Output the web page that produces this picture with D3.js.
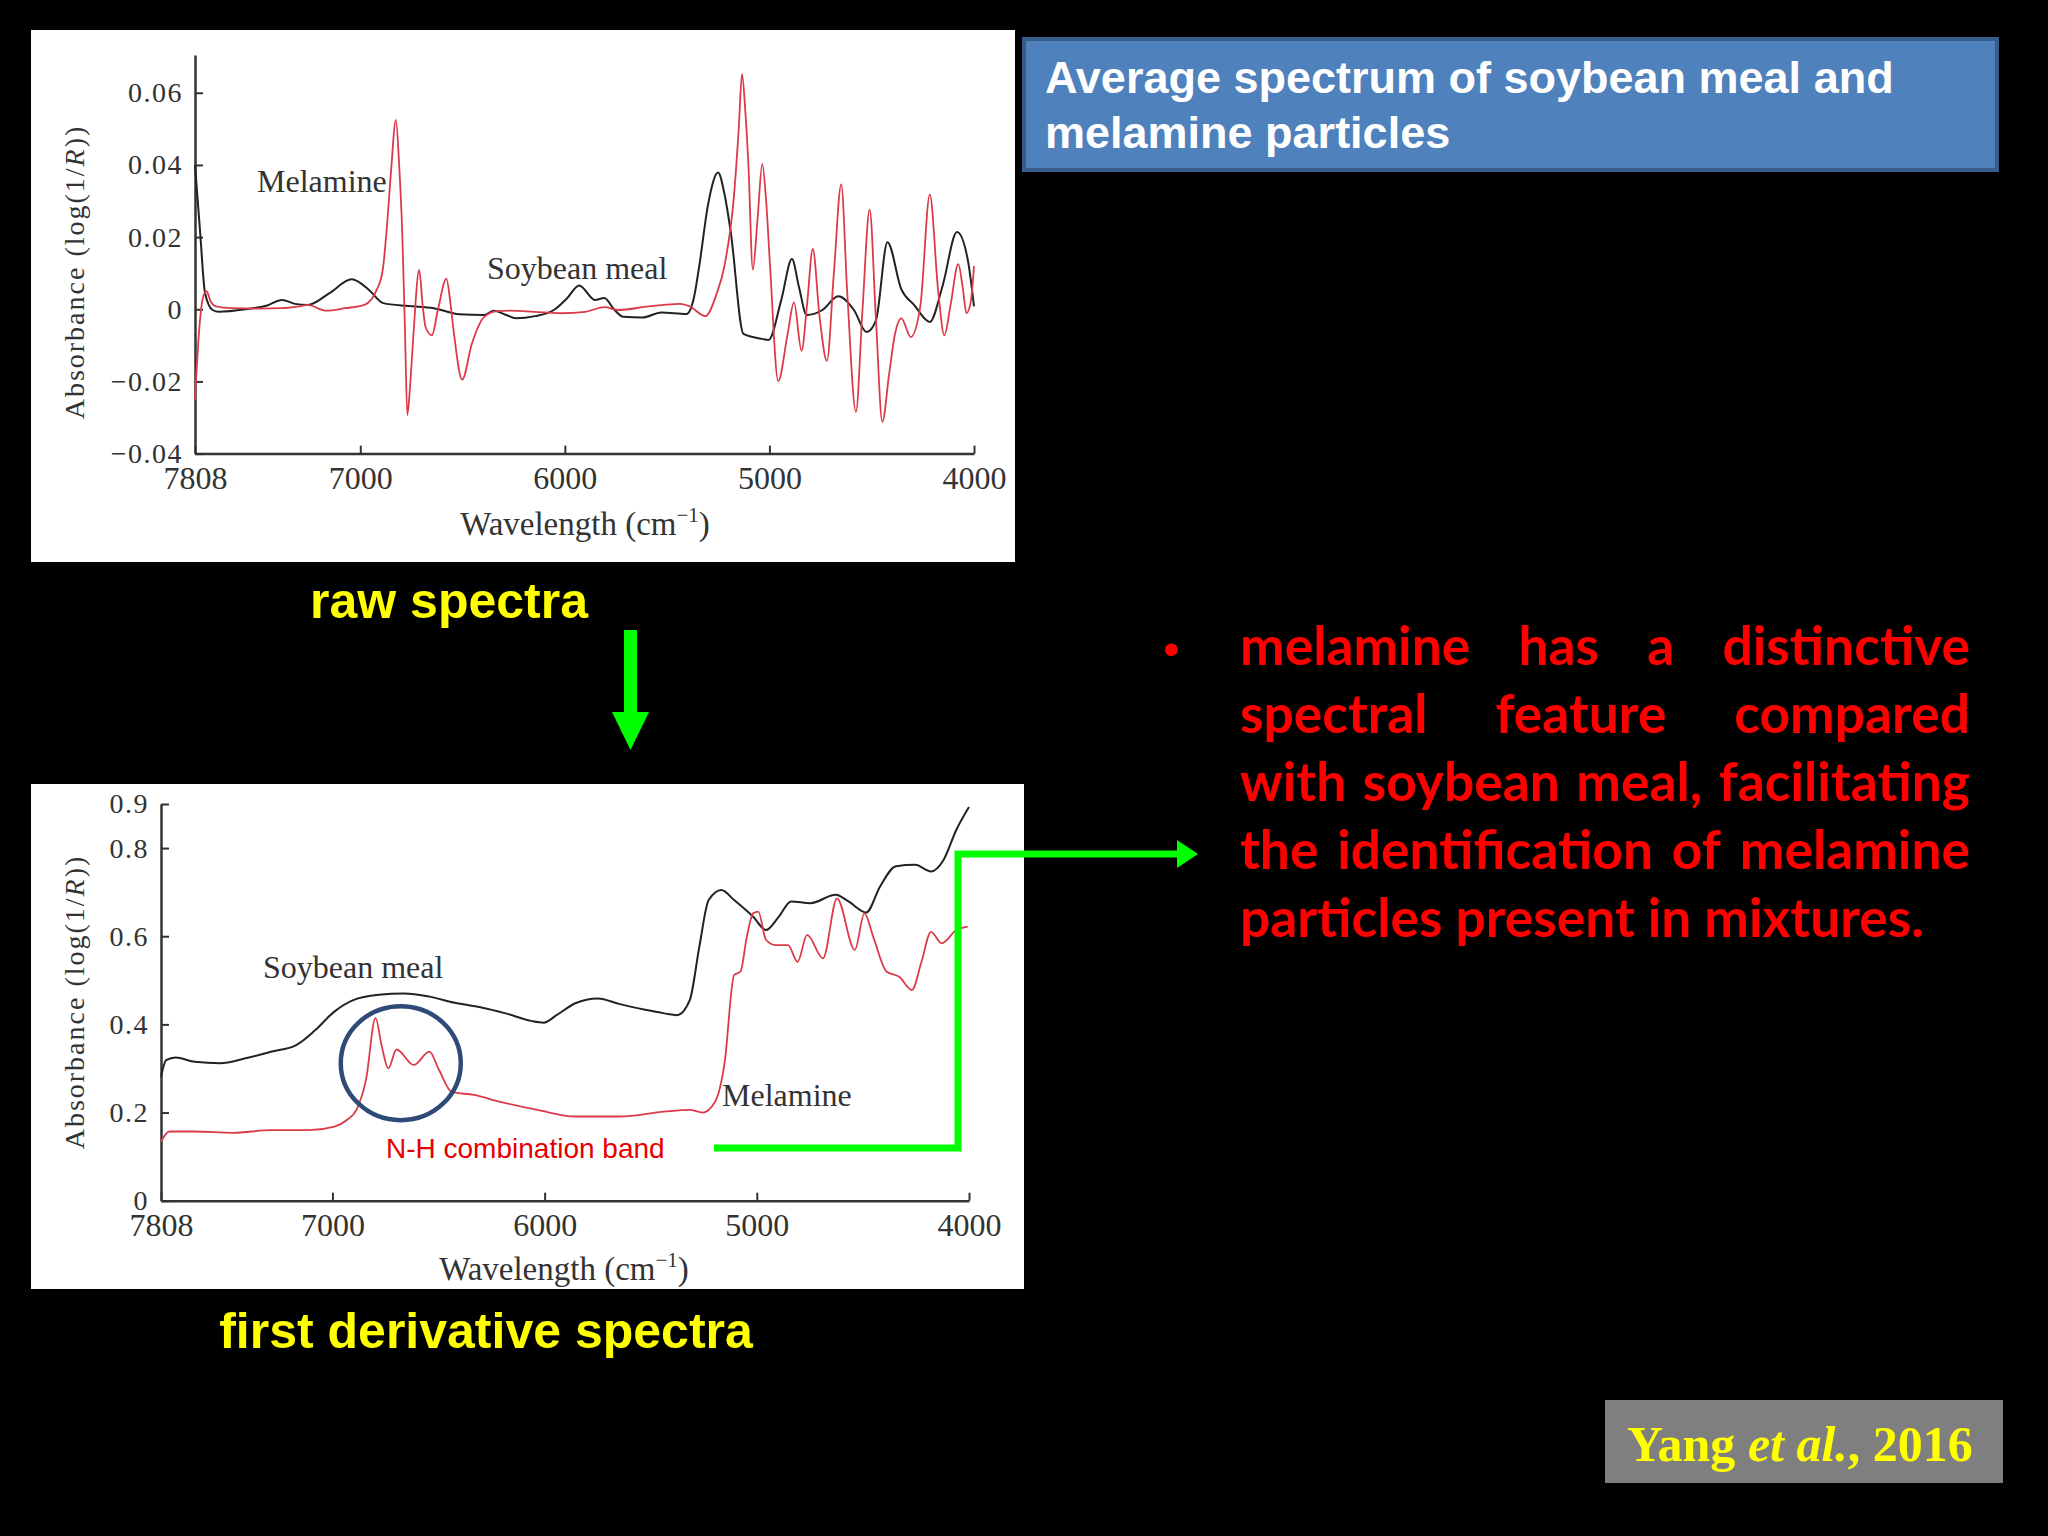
<!DOCTYPE html>
<html>
<head>
<meta charset="utf-8">
<script src="https://cdn.jsdelivr.net/npm/d3@7"></script>
<style>
  body { margin: 0; background: #000; }
  svg { display: block; }
</style>
</head>
<body>
<svg id="slide" width="2048" height="1536"></svg>
<script>
// ---- data (wavenumber cm-1, absorbance) ----
const xTicks = [7808, 7000, 6000, 5000, 4000];
const rawYTicks = [-0.04, -0.02, 0, 0.02, 0.04, 0.06];
const derivYTicks = [0, 0.2, 0.4, 0.6, 0.8, 0.9];

const rawSoybean = [
  [7808, 0.040], [7783, 0.0214], [7759, 0.0045], [7722, -0.0002], [7691, -0.0007], [7560, 0.0000],
  [7460, 0.0010], [7382, 0.0026], [7320, 0.0015], [7258, 0.0012], [7150, 0.0045], [7042, 0.0083],
  [6960, 0.0055], [6888, 0.0017], [6764, 0.0009], [6641, 0.0003], [6517, -0.0014], [6394, -0.0016],
  [6347, -0.0004], [6290, -0.0015], [6239, -0.0025], [6146, -0.0019], [6054, -0.0002], [5990, 0.0030],
  [5930, 0.0066], [5853, 0.0026], [5807, 0.0031], [5760, 0.0000], [5714, -0.0021], [5621, -0.0023],
  [5529, -0.0009], [5405, -0.0013], [5370, 0.0030], [5343, 0.0120], [5300, 0.0290], [5251, 0.0379],
  [5220, 0.0320], [5189, 0.0214], [5127, -0.0068], [5035, -0.0082], [5004, -0.0085], [4942, 0.0026],
  [4890, 0.0139], [4855, 0.0060], [4818, -0.0016], [4741, -0.0002], [4664, 0.0036], [4587, -0.0002],
  [4525, -0.0063], [4479, -0.0030], [4423, 0.0186], [4355, 0.0055], [4293, 0.0012], [4216, -0.0035],
  [4154, 0.0064], [4083, 0.0214], [4031, 0.0139], [4000, 0.0008]
];

const rawMelamine = [
  [7808, -0.0251], [7789, -0.0068], [7770, 0.0030], [7752, 0.0050], [7730, 0.0020], [7706, 0.0008],
  [7629, 0.0003], [7500, 0.0002], [7382, 0.0003], [7300, 0.0008], [7258, 0.0012], [7166, -0.0004],
  [7073, 0.0003], [6980, 0.0012], [6919, 0.0055], [6890, 0.0110], [6872, 0.0214], [6850, 0.0380],
  [6826, 0.0525], [6810, 0.0400], [6795, 0.0214], [6782, -0.0050], [6770, -0.0293], [6755, -0.0200],
  [6740, -0.0068], [6712, 0.0109], [6695, 0.0010], [6681, -0.0049], [6650, -0.0072], [6620, 0.0000],
  [6579, 0.0085], [6560, 0.0020], [6542, -0.0068], [6502, -0.0195], [6455, -0.0096], [6394, -0.0021],
  [6330, -0.0005], [6270, -0.0004], [6150, -0.0007], [6020, -0.0011], [5900, -0.0007], [5807, 0.0006],
  [5740, -0.0002], [5590, 0.0008], [5436, 0.0015], [5390, 0.0008], [5313, -0.0019], [5260, 0.0040],
  [5220, 0.0120], [5174, 0.0310], [5150, 0.0500], [5134, 0.0652], [5118, 0.0550], [5103, 0.0403],
  [5081, 0.0110], [5058, 0.0250], [5035, 0.0403], [5016, 0.0300], [4997, 0.0120], [4957, -0.0199],
  [4911, -0.0068], [4880, 0.0019], [4843, -0.0115], [4815, 0.0020], [4788, 0.0167], [4755, -0.0020],
  [4719, -0.0143], [4685, 0.0100], [4649, 0.0346], [4620, 0.0050], [4577, -0.0284], [4545, 0.0000],
  [4510, 0.0276], [4480, -0.0020], [4448, -0.0312], [4415, -0.0180], [4386, -0.0068], [4355, -0.0025],
  [4309, -0.0077], [4262, 0.0010], [4216, 0.0318], [4175, 0.0050], [4145, -0.0072], [4115, 0.0010],
  [4077, 0.0125], [4055, 0.0060], [4037, -0.0011], [4016, 0.0020], [4000, 0.0120]
];

const derivSoybean = [
  [7808, 0.281], [7784, 0.319], [7739, 0.325], [7649, 0.315], [7530, 0.312], [7410, 0.323],
  [7290, 0.338], [7171, 0.353], [7081, 0.387], [6991, 0.429], [6902, 0.455], [6782, 0.467],
  [6662, 0.470], [6543, 0.463], [6423, 0.449], [6303, 0.439], [6184, 0.425], [6064, 0.408],
  [6004, 0.404], [5944, 0.421], [5855, 0.448], [5750, 0.459], [5645, 0.446], [5526, 0.433],
  [5436, 0.425], [5376, 0.421], [5316, 0.455], [5271, 0.576], [5227, 0.682], [5167, 0.705],
  [5107, 0.682], [5017, 0.644], [4957, 0.614], [4897, 0.644], [4838, 0.679], [4748, 0.675],
  [4628, 0.694], [4568, 0.679], [4484, 0.654], [4419, 0.713], [4344, 0.759], [4254, 0.762],
  [4179, 0.747], [4120, 0.773], [4060, 0.841], [4000, 0.893]
];

const derivMelamine = [
  [7808, 0.134], [7769, 0.157], [7649, 0.157], [7470, 0.154], [7290, 0.160], [7111, 0.160],
  [6991, 0.168], [6932, 0.183], [6887, 0.206], [6842, 0.274], [6797, 0.414], [6767, 0.349],
  [6737, 0.300], [6698, 0.343], [6617, 0.308], [6543, 0.338], [6498, 0.297], [6438, 0.247],
  [6333, 0.240], [6214, 0.225], [6034, 0.206], [5855, 0.191], [5645, 0.191], [5436, 0.202],
  [5316, 0.206], [5256, 0.200], [5196, 0.225], [5152, 0.312], [5107, 0.512], [5077, 0.520],
  [5047, 0.599], [5017, 0.652], [4993, 0.656], [4957, 0.592], [4912, 0.580], [4853, 0.580],
  [4808, 0.542], [4763, 0.603], [4688, 0.550], [4622, 0.686], [4538, 0.569], [4493, 0.652],
  [4449, 0.595], [4389, 0.520], [4329, 0.508], [4269, 0.478], [4224, 0.542], [4179, 0.610],
  [4129, 0.584], [4060, 0.614], [4006, 0.622]
];

const bulletLines = [
  "melamine has a distinctive",
  "spectral feature compared",
  "with soybean meal, facilitating",
  "the identification of melamine",
  "particles present in mixtures."
];

const svg = d3.select("#slide");
svg.append("rect").attr("width", 2048).attr("height", 1536).attr("fill", "#000");

const serif = "'Liberation Serif', 'Times New Roman', serif";
const sans = "'Liberation Sans', Arial, sans-serif";
const inkGray = "#333";
const soyColor = "#222";
const melColor = "#dc3a4a";

/** one spectrum panel: white card, axes, two curves */
function drawPanel(cfg) {
  const g = svg.append("g");
  g.append("rect")
    .attr("x", cfg.box[0]).attr("y", cfg.box[1])
    .attr("width", cfg.box[2]).attr("height", cfg.box[3])
    .attr("fill", "#fff");

  const x = d3.scaleLinear().domain([7808, 4000]).range(cfg.xRange);
  const y = d3.scaleLinear().domain(cfg.yDomain).range(cfg.yRange);

  const xAxis = g.append("g")
    .attr("transform", `translate(0, ${cfg.yRange[0]})`)
    .call(d3.axisBottom(x).tickValues(xTicks).tickFormat(d3.format("d"))
      .tickSizeInner(-8).tickSizeOuter(0).tickPadding(13));
  const yAxis = g.append("g")
    .attr("transform", `translate(${cfg.xRange[0]}, 0)`)
    .call(d3.axisLeft(y).tickValues(cfg.yTicks).tickFormat(cfg.yFormat)
      .tickSizeInner(-8).tickSizeOuter(0).tickPadding(12));

  [xAxis, yAxis].forEach(ax => {
    ax.select(".domain").attr("stroke", inkGray).attr("stroke-width", 2.5);
    ax.selectAll(".tick line").attr("stroke", inkGray).attr("stroke-width", 2);
    ax.selectAll(".tick text").attr("fill", inkGray).attr("font-family", serif);
  });
  xAxis.selectAll(".tick text").attr("font-size", 32);
  yAxis.selectAll(".tick text").attr("font-size", 28).attr("letter-spacing", 1.5);

  const line = d3.line()
    .x(d => x(d[0]))
    .y(d => y(d[1]))
    .curve(d3.curveMonotoneX);

  g.append("path").datum(cfg.soy)
    .attr("d", line).attr("fill", "none")
    .attr("stroke", soyColor).attr("stroke-width", 2);
  g.append("path").datum(cfg.mel)
    .attr("d", line).attr("fill", "none")
    .attr("stroke", melColor).attr("stroke-width", 1.8);

  // axis titles
  const xt = g.append("text")
    .attr("x", cfg.xTitle[0]).attr("y", cfg.xTitle[1])
    .attr("text-anchor", "middle")
    .attr("font-family", serif).attr("font-size", 33).attr("fill", inkGray);
  xt.append("tspan").text("Wavelength (cm");
  xt.append("tspan").attr("dy", -13).attr("font-size", 21).text("\u22121");
  xt.append("tspan").attr("dy", 13).text(")");

  const yt = g.append("text")
    .attr("transform", `translate(${cfg.yTitle[0]}, ${cfg.yTitle[1]}) rotate(-90)`)
    .attr("text-anchor", "middle")
    .attr("font-family", serif).attr("font-size", 28)
    .attr("letter-spacing", 2).attr("fill", inkGray);
  yt.append("tspan").text("Absorbance (log(1/");
  yt.append("tspan").attr("font-style", "italic").text("R");
  yt.append("tspan").text("))");

  cfg.labels.forEach(l => {
    g.append("text")
      .attr("x", l[1]).attr("y", l[2])
      .attr("font-family", serif).attr("font-size", 32).attr("fill", inkGray)
      .text(l[0]);
  });

  return { g, x, y };
}

const fmtRaw = d => d === 0 ? "0" : d3.format(".2f")(d);
const fmtDeriv = d => d === 0 ? "0" : d3.format(".1f")(d);

drawPanel({
  box: [31, 30, 984, 532],
  xRange: [195, 974],
  yRange: [453.6, 54.9],
  yDomain: [-0.04, 0.0705],
  yTicks: rawYTicks,
  yFormat: fmtRaw,
  soy: rawSoybean,
  mel: rawMelamine,
  xTitle: [585, 535],
  yTitle: [84, 272],
  labels: [["Melamine", 257, 192], ["Soybean meal", 487, 279]]
});

const p2 = drawPanel({
  box: [31, 784, 993, 505],
  xRange: [161, 969],
  yRange: [1200.7, 804],
  yDomain: [0, 0.9],
  yTicks: derivYTicks,
  yFormat: fmtDeriv,
  soy: derivSoybean,
  mel: derivMelamine,
  xTitle: [564, 1280],
  yTitle: [84, 1002],
  labels: [["Soybean meal", 263, 978], ["Melamine", 722, 1106]]
});

// N-H combination band: ellipse round the melamine triplet
p2.g.append("ellipse")
  .attr("cx", p2.x(6678)).attr("cy", p2.y(0.312))
  .attr("rx", 60).attr("ry", 57)
  .attr("fill", "none").attr("stroke", "#2f4a78").attr("stroke-width", 4.5);
p2.g.append("text")
  .attr("x", 386).attr("y", 1158)
  .attr("font-family", sans).attr("font-size", 28).attr("fill", "#e60000")
  .text("N-H combination band");

// green connector with arrow to the bullet text
const defs = svg.append("defs");
defs.append("marker")
  .attr("id", "greenHead")
  .attr("markerUnits", "userSpaceOnUse")
  .attr("viewBox", "0 -14 22 28")
  .attr("refX", 0).attr("refY", 0)
  .attr("markerWidth", 22).attr("markerHeight", 28)
  .attr("orient", "auto")
  .append("path").attr("d", "M0,-14L21,0L0,14Z").attr("fill", "#00ff00");

svg.append("polyline")
  .attr("points", "714,1148 958,1148 958,854 1177,854")
  .attr("fill", "none").attr("stroke", "#00ff00").attr("stroke-width", 7)
  .attr("stroke-linejoin", "miter")
  .attr("marker-end", "url(#greenHead)");

// down arrow between the panels
svg.append("path")
  .attr("d", "M624,630 L637,630 L637,712 L649,712 L630.5,750 L612,712 L624,712 Z")
  .attr("fill", "#00ff00");

// captions
svg.append("text")
  .attr("x", 449).attr("y", 618).attr("text-anchor", "middle")
  .attr("font-family", sans).attr("font-weight", "bold").attr("font-size", 50)
  .attr("fill", "#ffff00").text("raw spectra");
svg.append("text")
  .attr("x", 486).attr("y", 1348).attr("text-anchor", "middle")
  .attr("font-family", sans).attr("font-weight", "bold").attr("font-size", 50)
  .attr("fill", "#ffff00").text("first derivative spectra");

// title box
svg.append("rect")
  .attr("x", 1024).attr("y", 39).attr("width", 973).attr("height", 131)
  .attr("fill", "#4f81bd").attr("stroke", "#385d8a").attr("stroke-width", 4);
[["Average spectrum of soybean meal and", 93], ["melamine particles", 148]].forEach(t => {
  svg.append("text")
    .attr("x", 1045).attr("y", t[1])
    .attr("font-family", sans).attr("font-weight", "bold").attr("font-size", 45)
    .attr("fill", "#fff").text(t[0]);
});

// justified bullet paragraph
const bx0 = 1240, bx1 = 1970;
const bulletFont = "Lato, 'Open Sans', sans-serif";
const measure = svg.append("text")
  .attr("font-family", bulletFont).attr("font-weight", "bold").attr("font-size", 100)
  .attr("x", -5000).attr("y", -5000);
const widthAt100 = s => { measure.text(s); return measure.node().getComputedTextLength(); };
const bulletSize = 100 * 684 / widthAt100(bulletLines[4]);

svg.append("text")
  .attr("x", 1171).attr("y", 665).attr("text-anchor", "middle")
  .attr("font-family", sans).attr("font-size", 46).attr("fill", "#ff0000")
  .text("\u2022");

bulletLines.forEach((ln, i) => {
  const yy = 665 + i * 68;
  const t = svg.append("text")
    .attr("y", yy)
    .attr("font-family", bulletFont).attr("font-weight", "bold")
    .attr("font-size", bulletSize).attr("fill", "#ff0000");
  if (i === bulletLines.length - 1) {
    t.attr("x", bx0).text(ln);
    return;
  }
  const words = ln.split(" ");
  const ws = words.map(w => widthAt100(w) * bulletSize / 100);
  const gap = (bx1 - bx0 - d3.sum(ws)) / (words.length - 1);
  let cx = bx0;
  words.forEach((w, k) => {
    t.append("tspan").attr("x", cx).text(w);
    cx += ws[k] + gap;
  });
});
measure.remove();

// citation
svg.append("rect")
  .attr("x", 1605).attr("y", 1400).attr("width", 398).attr("height", 83)
  .attr("fill", "#7f7f7f");
const cite = svg.append("text")
  .attr("x", 1627).attr("y", 1461)
  .attr("font-family", serif).attr("font-weight", "bold").attr("font-size", 50)
  .attr("fill", "#ffff00");
cite.append("tspan").text("Yang ");
cite.append("tspan").attr("font-style", "italic").text("et al.");
cite.append("tspan").text(", 2016");
</script>
</body>
</html>
